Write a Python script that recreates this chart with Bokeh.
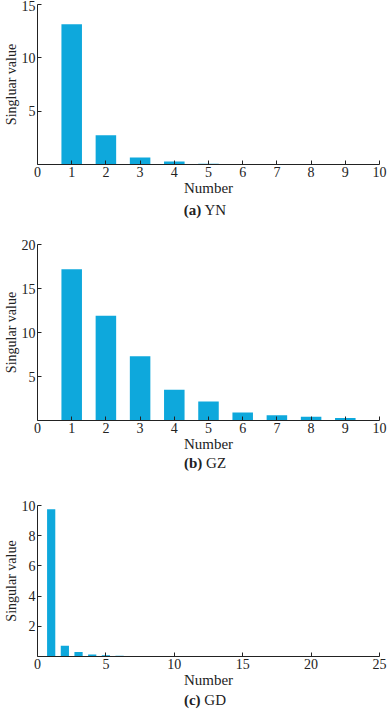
from bokeh.plotting import figure
from bokeh.layouts import column
from bokeh.models import Range1d, FixedTicker, Div
from bokeh.embed import file_html
from bokeh.resources import INLINE

# ---- data ----
yn_numbers = [1, 2, 3, 4, 5, 6, 7, 8, 9]
yn_values = [13.15, 2.75, 0.65, 0.28, 0.06, 0.05, 0.05, 0.04, 0.04]

gz_numbers = [1, 2, 3, 4, 5, 6, 7, 8, 9]
gz_values = [17.2, 11.9, 7.3, 3.5, 2.15, 0.9, 0.6, 0.42, 0.28]

gd_numbers = list(range(1, 25))
gd_values = [9.75, 0.72, 0.3, 0.13, 0.09, 0.05, 0.04, 0.03, 0.03, 0.03,
             0.03, 0.03, 0.03, 0.03, 0.03, 0.03, 0.03, 0.03, 0.03, 0.03,
             0.03, 0.03, 0.03, 0.03]

yn_xticks = list(range(0, 11))
yn_yticks = [5, 10, 15]
gz_xticks = list(range(0, 11))
gz_yticks = [5, 10, 15, 20]
gd_xticks = [0, 5, 10, 15, 20, 25]
gd_yticks = [2, 4, 6, 8, 10]

BAR = "#0ea8dc"
FONT = "Liberation Serif"
INK = "#222222"
W = 387


def panel(xs, ys, xmax, ymax, xticks, yticks, ylabel, frame_h, btop):
    bbottom = 36
    p = figure(width=W, height=btop + frame_h + bbottom, output_backend="svg",
               toolbar_location=None,
               x_range=Range1d(0, xmax), y_range=Range1d(0, ymax),
               min_border_left=20, min_border_right=8,
               min_border_top=btop, min_border_bottom=bbottom)
    p.vbar(x=xs, top=ys, width=0.6, fill_color=BAR, line_color=None)
    p.outline_line_color = None
    p.grid.visible = False
    for ax in (p.xaxis[0], p.yaxis[0]):
        ax.major_tick_in = 4
        ax.major_tick_out = 0
        ax.minor_tick_in = 0
        ax.minor_tick_out = 0
        ax.axis_line_color = INK
        ax.major_tick_line_color = INK
        ax.major_label_text_font = FONT
        ax.major_label_text_font_size = "14px"
        ax.major_label_text_color = INK
        ax.axis_label_text_font = FONT
        ax.axis_label_text_font_size = "15px"
        ax.axis_label_text_font_style = "normal"
        ax.axis_label_text_color = INK
    p.yaxis[0].axis_label_text_font_size = "14px"
    p.xaxis[0].ticker = FixedTicker(ticks=xticks)
    p.yaxis[0].ticker = FixedTicker(ticks=yticks)
    p.xaxis[0].axis_label = "Number"
    p.xaxis[0].axis_label_standoff = 0
    p.xaxis[0].major_label_standoff = 2
    p.yaxis[0].axis_label = ylabel
    p.yaxis[0].axis_label_standoff = 0
    p.yaxis[0].major_label_standoff = 2
    return p


def caption(tag, name, h):
    html = ('<div style="width:360px;margin-left:25px;text-align:center;'
            'font-family:\'Liberation Serif\';font-size:15px;line-height:%dpx;'
            'color:#222222;white-space:nowrap"><b>%s</b> %s</div>' % (h, tag, name))
    return Div(text=html, width=W, height=h, margin=0)


pa = panel(yn_numbers, yn_values, 10, 15, yn_xticks, yn_yticks,
           "Singluar value", 160, 4)
ca = caption("(a)", "YN", 20)
pb = panel(gz_numbers, gz_values, 10, 20, gz_xticks, gz_yticks,
           "Singular value", 176, 24)
cb = caption("(b)", "GZ", 14)
pc = panel(gd_numbers, gd_values, 25, 10, gd_xticks, gd_yticks,
           "Singular value", 151, 35)
cc = caption("(c)", "GD", 17)

layout = column(pa, ca, pb, cb, pc, cc, spacing=0)
open("out.html", "w").write(file_html(layout, INLINE))
